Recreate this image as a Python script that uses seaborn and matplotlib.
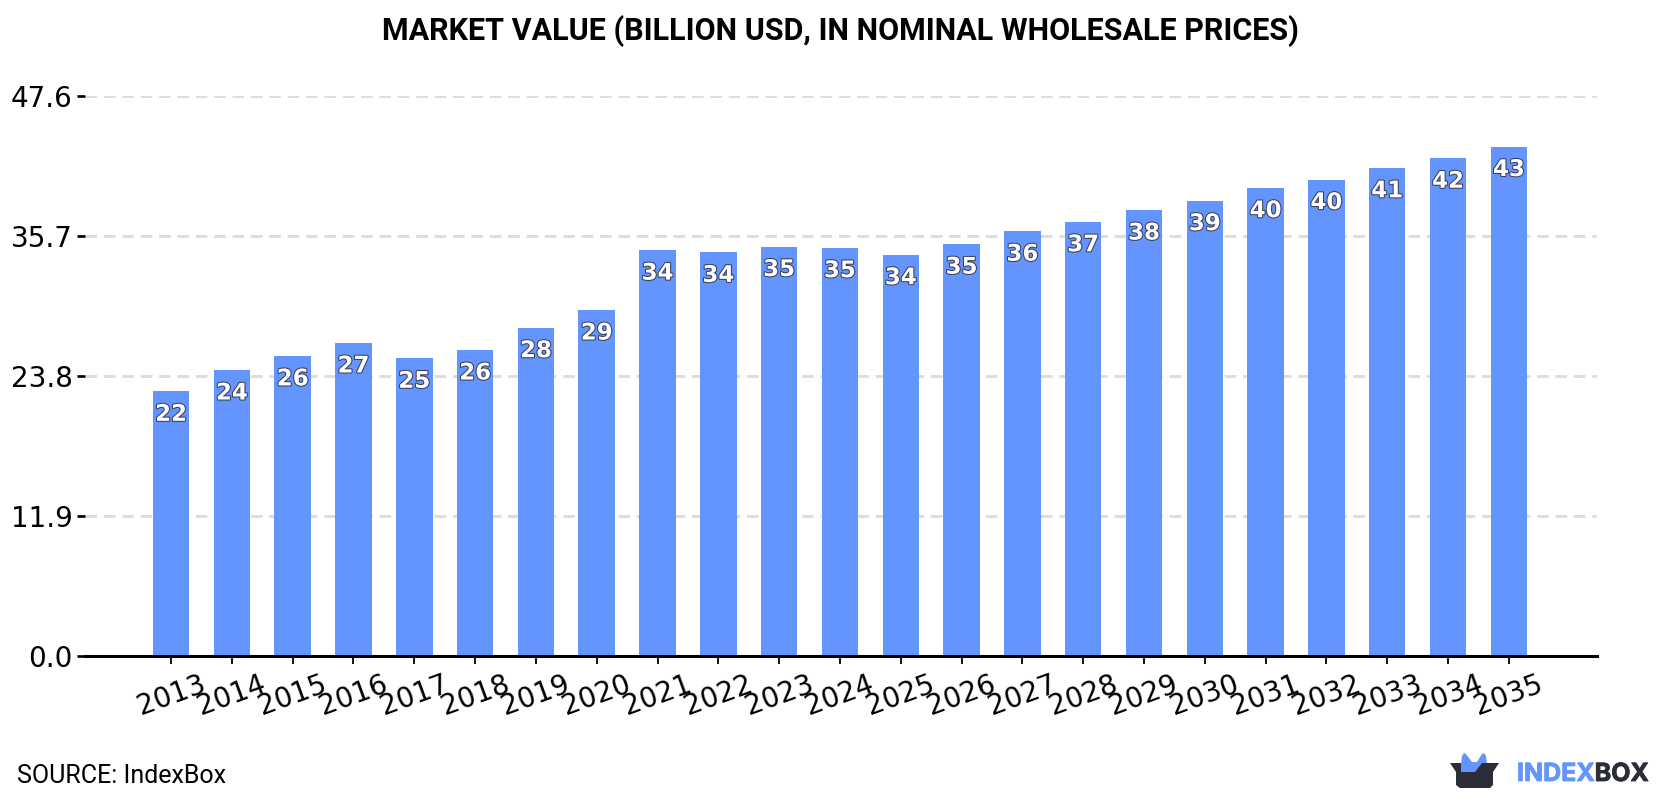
import matplotlib
matplotlib.use("Agg")
import matplotlib.pyplot as plt
import matplotlib.patheffects as pe
from matplotlib.patches import Polygon
from matplotlib.transforms import IdentityTransform
import pandas as pd
import seaborn as sns

years = list(range(2013, 2036))
market_value = [22.49, 24.3, 25.5, 26.6, 25.3, 26.0, 27.9, 29.4, 34.49, 34.3, 34.8, 34.7,
                34.1, 35.0, 36.1, 36.9, 37.9, 38.7, 39.8, 40.49, 41.49, 42.3, 43.3]
y_ticks = [0.0, 11.9, 23.8, 35.7, 47.6]

BAR_BLUE = "#6495ff"
DARK = "#2b2d38"
W, H = 1680, 800

sns.set_theme(style="white")
plt.rcParams["font.family"] = ["DejaVu Sans"]

fig = plt.figure(figsize=(W / 100, H / 100), dpi=100)
ax = fig.add_axes([85 / W, 1 - 656 / H, (1597 - 85) / W, (656 - 96) / H])

df = pd.DataFrame({"year": years, "value": market_value})
sns.barplot(data=df, x="year", y="value", color=BAR_BLUE, saturation=1, width=0.6,
            linewidth=0, edgecolor="none", ax=ax, zorder=3)

ax.set_xlim(-1.415, 23.45)
ax.set_ylim(0, 47.6)
ax.set_xlabel("")
ax.set_ylabel("")
ax.set_yticks(y_ticks)
ax.set_yticklabels([f"{v:.1f}" for v in y_ticks])
ax.grid(axis="y", color="#dddddd", linestyle=(0, (4.0, 2.3)), linewidth=2.1, zorder=0)
ax.set_axisbelow(True)
for side in ("top", "right", "left"):
    ax.spines[side].set_visible(False)
ax.spines["bottom"].set_linewidth(2.2)
ax.spines["bottom"].set_color("black")
ax.spines["bottom"].set_zorder(6)
ax.tick_params(axis="y", length=6, width=1.9, color="black", labelsize=20, pad=3, left=True, labelcolor="black")
ax.tick_params(axis="x", length=5.5, width=1.3, color="black", labelsize=20, pad=5, bottom=True, labelcolor="black")
for lab in ax.get_xticklabels():
    lab.set_rotation(20)
    lab.set_ha("center")

# Value labels just under the top of each bar
for i, v in enumerate(market_value):
    ax.annotate(f"{v:.0f}", (i, v), xytext=(0, -16.5), textcoords="offset points",
                ha="center", va="center", fontsize=16.5, fontweight="bold", color="white",
                path_effects=[pe.withStroke(linewidth=1.5, foreground="#3a3f55")], zorder=5)

fig.text(0.5, 1 - 31.5 / H, "MARKET VALUE (BILLION USD, IN NOMINAL WHOLESALE PRICES)",
         ha="center", va="center", fontsize=22, fontweight="bold", family="Roboto", color="black")
fig.text(17 / W, 1 - 776 / H, "SOURCE: IndexBox", ha="left", va="center",
         fontsize=18, family="Roboto", color="black")

# Brand mark in the lower right corner, in pixel coordinates
def px(points):
    return [(x, H - y) for x, y in points]

box_flaps = px([(1461, 764), (1462, 756), (1464, 753), (1466, 754), (1472, 762), (1477, 762),
                (1482, 754), (1484, 753), (1486, 756), (1487, 764), (1476, 773), (1461, 773)])
box_body = px([(1450, 763), (1461, 763), (1461, 772), (1475, 772), (1482, 763), (1499, 763),
               (1493, 772), (1493, 785), (1490, 788), (1460, 788), (1456, 785), (1456, 772)])
fig.add_artist(Polygon(box_flaps, closed=True, fc=BAR_BLUE, ec="none", transform=IdentityTransform()))
fig.add_artist(Polygon(box_body, closed=True, fc=DARK, ec="none", transform=IdentityTransform()))

brand_style = dict(ha="left", va="center", fontsize=18, fontweight="bold", family="Inter")
brand_left = fig.text(1517 / W, 1 - 774.5 / H, "INDEX", color=BAR_BLUE,
                      path_effects=[pe.withStroke(linewidth=0.6, foreground=BAR_BLUE)], **brand_style)
fig.canvas.draw()
bb = brand_left.get_window_extent()
fig.text(bb.x1 / W, 1 - 774.5 / H, "BOX", color=DARK,
         path_effects=[pe.withStroke(linewidth=0.6, foreground=DARK)], **brand_style)

fig.savefig("out.png", dpi=100, facecolor="white")
